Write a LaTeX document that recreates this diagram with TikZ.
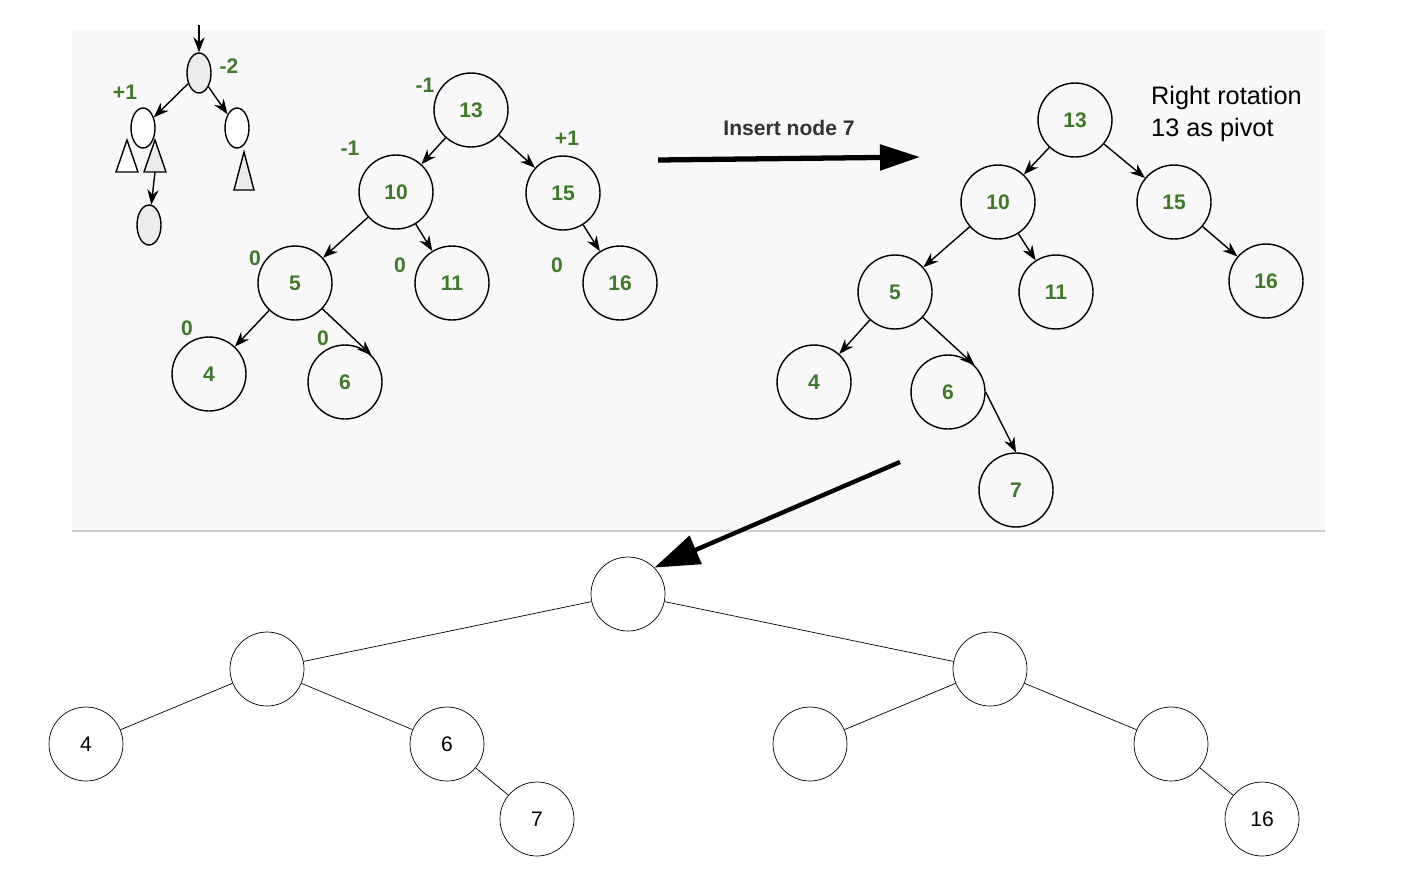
\documentclass[tikz,border=0pt]{standalone}
\usepackage{fontspec}
\setmainfont{Liberation Sans}
\usetikzlibrary{arrows.meta}
\definecolor{bal_green}{HTML}{3F7A2A}
\definecolor{panel_gray}{HTML}{F8F8F8}
\tikzset{
  avl/.style={circle, draw, thick, minimum size=1.48cm, inner sep=0pt, text=bal_green, font=\bfseries\large},
  bst/.style={circle, draw, minimum size=1.48cm, inner sep=0pt, font=\large},
  blob/.style={ellipse, draw, thick, fill=gray!15, minimum width=0.48cm, minimum height=0.8cm, inner sep=0pt},
  bal/.style={text=bal_green, font=\bfseries\large},
  edge/.style={thick, -{Stealth[length=3mm]}}
}
\usetikzlibrary{shapes.geometric}
\begin{document}
\begin{tikzpicture}[x=0.02cm, y=-0.02cm]
  \useasboundingbox (0,0) rectangle (1412,890);
  % Panel
  \fill[panel_gray] (72,30) rectangle (1325,530);
  \draw[gray!40, line width=1.5pt] (72,531) -- (1325,531);

  % Small scheme
  \coordinate (in) at (199,25);
  \node[blob] (r) at (199,73) {};
  \node[blob, fill=white] (rl) at (143,128) {};
  \node[blob, fill=white] (rr) at (237,128) {};
  \node[blob] (g) at (149,225) {};
  \draw[edge] (in) -- (r);
  \draw[edge] (r) -- (rl);
  \draw[edge] (r) -- (rr);
  \draw[thick, fill=white] (127,140) -- (116,172) -- (138,172) -- cycle;
  \draw[thick, fill=gray!15] (155,140) -- (144,172) -- (166,172) -- cycle;
  \draw[thick, fill=gray!15] (244,152) -- (234,190) -- (254,190) -- cycle;
  \coordinate (t) at (155,172);
  \draw[edge] (t) -- (g);
  \node[bal] at (229,66) {-2};
  \node[bal] at (125,92) {+1};

  % Tree before
  \node[avl] (a13) at (471,110) {13};
  \node[avl] (a10) at (396,192) {10};
  \node[avl] (a15) at (563,193) {15};
  \node[avl] (a5) at (295,283) {5};
  \node[avl] (a11) at (452,283) {11};
  \node[avl] (a16) at (620,283) {16};
  \node[avl] (a4) at (209,374) {4};
  \node[avl] (a6) at (345,382) {6};
  \foreach \p/\c in {a13/a10, a13/a15, a10/a5, a10/a11, a15/a16, a5/a4}
    \draw[edge] (\p) -- (\c);
  \draw[edge] (a5) -- (a6.north east);
  \node[bal] at (425,85) {-1};
  \node[bal] at (350,148) {-1};
  \node[bal] at (567,138) {+1};
  \node[bal] at (255,258) {0};
  \node[bal] at (400,265) {0};
  \node[bal] at (557,265) {0};
  \node[bal] at (187,328) {0};
  \node[bal] at (323,338) {0};

  % Insert arrow
  \coordinate (s) at (658,160);
  \coordinate (e) at (920,157);
  \draw[line width=3pt, -{Triangle[length=8mm, width=5mm]}] (s) -- (e)
    node[midway, above=8pt, font=\bfseries\large, text=black!80] {Insert node 7};

  % Tree after insert
  \node[avl] (b13) at (1075,120) {13};
  \node[avl] (b10) at (998,202) {10};
  \node[avl] (b15) at (1174,202) {15};
  \node[avl] (b5) at (895,292) {5};
  \node[avl] (b11) at (1056,292) {11};
  \node[avl] (b16) at (1266,281) {16};
  \node[avl] (b4) at (814,382) {4};
  \node[avl] (b6) at (948,392) {6};
  \node[avl] (b7) at (1016,490) {7};
  \foreach \p/\c in {b13/b10, b13/b15, b10/b5, b10/b11, b15/b16, b5/b4}
    \draw[edge] (\p) -- (\c);
  \draw[edge] (b5) -- (b6.north east);
  \draw[edge] (b6.east) -- (b7.north);
  \node[anchor=west, align=left, font=\Large] at (1145,114) {Right rotation\\13 as pivot};

  % Result tree
  \node[bst] (c0) at (628,594) {};
  \node[bst] (cl) at (267,669) {};
  \node[bst] (cr) at (990,669) {};
  \node[bst] (c4) at (86,744) {4};
  \node[bst] (c6) at (447,744) {6};
  \node[bst] (c7) at (537,819) {7};
  \node[bst] (crl) at (810,744) {};
  \node[bst] (crr) at (1171,744) {};
  \node[bst] (c16) at (1262,819) {16};
  \foreach \p/\c in {c0/cl, c0/cr, cl/c4, cl/c6, c6/c7, cr/crl, cr/crr, crr/c16}
    \draw (\p) -- (\c);

  \coordinate (d) at (900,462);
  \draw[line width=2.5pt, -{Triangle[length=9mm, width=6mm]}] (d) -- (c0.north east);
\end{tikzpicture}
\end{document}
